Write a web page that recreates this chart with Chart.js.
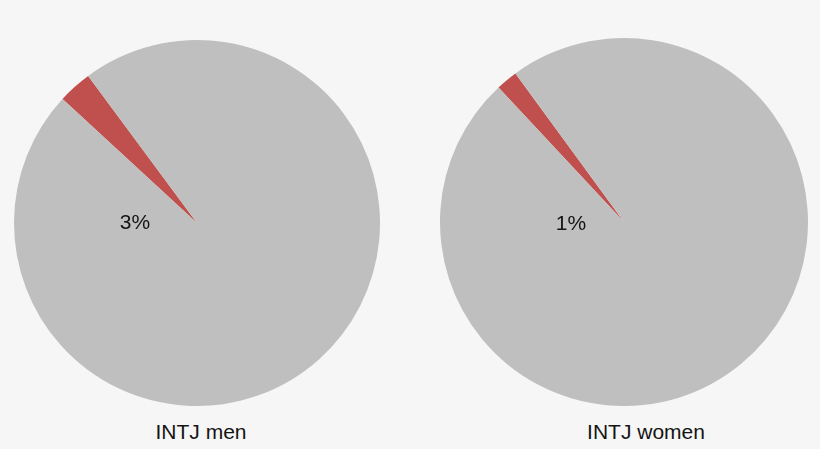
<!DOCTYPE html>
<html>
<head>
<meta charset="utf-8">
<script src="https://cdn.jsdelivr.net/npm/chart.js@4"></script>
<style>
  html, body { margin: 0; padding: 0; background: #f6f6f6; }
  .stage { position: relative; width: 820px; height: 449px; overflow: hidden; font-family: "Liberation Sans", Arial, sans-serif; color: #141414; }
  .stage canvas { position: absolute; }
  .txt { position: absolute; transform: translate(-50%, -50%); white-space: nowrap; }
  .pct { font-size: 21px; }
  .ttl { font-size: 21px; }
</style>
</head>
<body>
<div class="stage" id="stage">
  <canvas id="pieMen"></canvas>
  <canvas id="pieWomen"></canvas>
</div>
<script>
// share of INTJ in each group (%)
const groups = ['INTJ men', 'INTJ women'];
const intjShare = [3, 1.9];
const pctLabels = ['3%', '1%'];
const sliceNames = ['INTJ', 'Other'];
const sliceColors = ['#c0504d', '#bfbfbf'];

// where each pie sits on the page
const pies = [
  { id: 'pieMen', cx: 197, cy: 223, r: 183, rot: -47.3, pct: [135, 222], title: [201, 432] },
  { id: 'pieWomen', cx: 624, cy: 222, r: 184, rot: -43, pct: [571, 223], title: [646, 432] }
];

const stage = document.getElementById('stage');

pies.forEach((p, i) => {
  const canvas = document.getElementById(p.id);
  canvas.width = p.r * 2;
  canvas.height = p.r * 2;
  canvas.style.left = (p.cx - p.r) + 'px';
  canvas.style.top = (p.cy - p.r) + 'px';

  new Chart(canvas, {
    type: 'pie',
    data: {
      labels: sliceNames,
      datasets: [{
        data: [intjShare[i], 100 - intjShare[i]],
        backgroundColor: sliceColors,
        borderWidth: 0
      }]
    },
    options: {
      responsive: false,
      animation: false,
      rotation: p.rot,
      layout: { padding: 0 },
      plugins: {
        legend: { display: false },
        tooltip: { enabled: false }
      }
    }
  });

  const pct = document.createElement('div');
  pct.className = 'txt pct';
  pct.textContent = pctLabels[i];
  pct.style.left = p.pct[0] + 'px';
  pct.style.top = p.pct[1] + 'px';
  stage.appendChild(pct);

  const title = document.createElement('div');
  title.className = 'txt ttl';
  title.textContent = groups[i];
  title.style.left = p.title[0] + 'px';
  title.style.top = p.title[1] + 'px';
  stage.appendChild(title);
});
</script>
</body>
</html>
